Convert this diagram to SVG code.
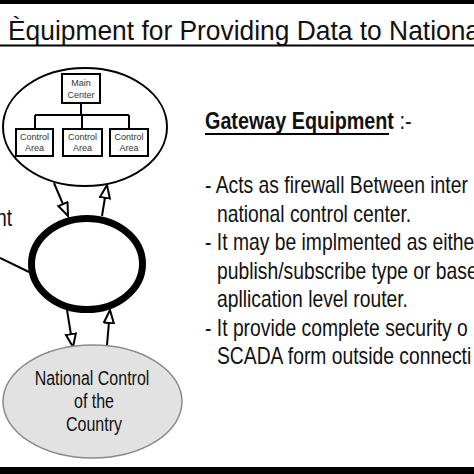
<svg xmlns="http://www.w3.org/2000/svg" width="474" height="474" viewBox="0 0 474 474">
<defs>
<style>
text{font-family:"Liberation Sans",Arial,sans-serif;fill:#111}
.t{font-size:23px}
.n{font-size:20px}
.sm{font-size:9px;fill:#333;text-anchor:middle}
.box{fill:#fff;stroke:#000;stroke-width:2}
.ln{fill:none;stroke:#000;stroke-width:2}
.arr{fill:none;stroke:#000;stroke-width:2;marker-end:url(#ah)}
</style>
<marker id="ah" markerUnits="userSpaceOnUse" markerWidth="16" markerHeight="14" refX="14" refY="6" orient="auto">
<path d="M1,1 L14,6 L1,11 Z" fill="#fff" stroke="#000" stroke-width="2" stroke-linejoin="miter"/>
</marker>
</defs>
<rect x="0" y="0" width="474" height="4" fill="#000"/>
<rect x="0" y="467" width="474" height="7" fill="#000"/>
<g id="title">
<text x="8" y="40" font-size="27.5" textLength="472" lengthAdjust="spacingAndGlyphs">Èquipment for Providing Data to Nationa</text>
<line x1="0" y1="45.5" x2="474" y2="45.5" stroke="#000" stroke-width="2"/>
</g>
<g id="connectors">
<line class="arr" x1="54" y1="183" x2="68" y2="216"/>
<line class="arr" x1="102" y1="216" x2="107" y2="185"/>
<line class="arr" x1="67" y1="310" x2="73" y2="347"/>
<line class="arr" x1="107" y1="345" x2="110" y2="310"/>
<line class="ln" x1="0" y1="258" x2="29" y2="272"/>
</g>
<g id="main-network">
<ellipse cx="85" cy="127" rx="82" ry="59" fill="#fff" stroke="#000" stroke-width="2"/>
<path class="ln" d="M81,103 V115 M35,115 H129 M35,115 V129 M82,115 V129 M129,115 V129"/>
<g id="main-center">
<rect class="box" x="62" y="74" width="38" height="29"/>
<text class="sm" x="81" y="86">Main</text>
<text class="sm" x="81" y="98">Center</text>
</g>
<g id="control-area-1">
<rect class="box" x="16" y="129" width="37" height="27"/>
<text class="sm" x="34.5" y="140">Control</text>
<text class="sm" x="34.5" y="151">Area</text>
</g>
<g id="control-area-2">
<rect class="box" x="63" y="129" width="39" height="27"/>
<text class="sm" x="82.5" y="140">Control</text>
<text class="sm" x="82.5" y="151">Area</text>
</g>
<g id="control-area-3">
<rect class="box" x="110" y="129" width="38" height="27"/>
<text class="sm" x="129" y="140">Control</text>
<text class="sm" x="129" y="151">Area</text>
</g>
</g>
<g id="gateway">
<ellipse cx="87" cy="264" rx="55.5" ry="45.5" fill="#fff" stroke="#000" stroke-width="7"/>
</g>
<g id="national-control">
<ellipse cx="92.5" cy="401.5" rx="89.5" ry="56.5" fill="#e2e2e2" stroke="#8a8a8a" stroke-width="1.5"/>
<text class="n" text-anchor="middle" transform="translate(92,385) scale(0.8,1)">National Control</text>
<text class="n" text-anchor="middle" transform="translate(94,408) scale(0.8,1)">of the</text>
<text class="n" text-anchor="middle" transform="translate(94,431) scale(0.8,1)">Country</text>
</g>
<g id="left-fragment">
<text class="t" text-anchor="end" transform="translate(12,226) scale(0.84,1)">nt</text>
</g>
<g id="description">
<text class="t" transform="translate(205,129) scale(0.86,1)"><tspan font-weight="bold">Gateway Equipment</tspan> :-</text>
<line x1="205" y1="134" x2="389" y2="134" stroke="#000" stroke-width="2"/>
<text class="t" transform="translate(205,193) scale(0.84,1)">- Acts as firewall Between inter</text>
<text class="t" transform="translate(217,221.5) scale(0.84,1)">national control center.</text>
<text class="t" transform="translate(205,250) scale(0.84,1)">- It may be implmented as eithe</text>
<text class="t" transform="translate(217,278.5) scale(0.84,1)">publish/subscribe type or base</text>
<text class="t" transform="translate(217,307) scale(0.84,1)">apllication level router.</text>
<text class="t" transform="translate(205,335.5) scale(0.84,1)">- It provide complete security o</text>
<text class="t" transform="translate(217,364) scale(0.84,1)">SCADA form outside connecti</text>
</g>
</svg>
